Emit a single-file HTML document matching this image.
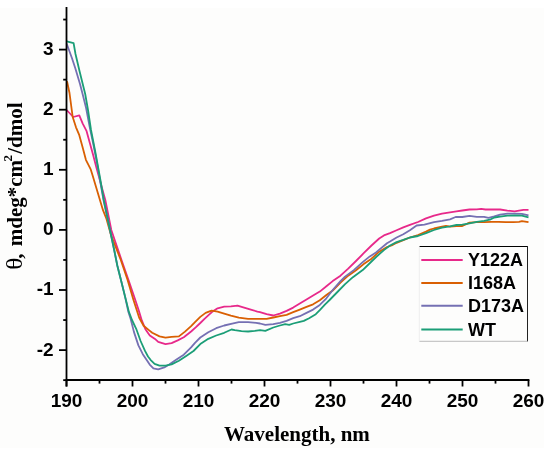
<!DOCTYPE html>
<html><head><meta charset="utf-8"><style>html,body{margin:0;padding:0;background:#fff;width:550px;height:452px;overflow:hidden}svg{display:block}</style></head>
<body><svg width="550" height="452" viewBox="0 0 550 452"><rect x="0" y="8" width="544" height="440" fill="#fdfdfc"/><polyline points="66.6,110.0 73.3,117.0 79.3,115.3 82.6,123.3 86.6,131.2 89.9,143.2 93.2,155.2 96.6,168.4 105.3,200.0 111.3,230.0 121.5,260.0 128.5,280.0 135.3,300.0 138.8,310.6 141.8,320.4 145.4,329.2 149.8,335.4 155.0,338.9 158.2,341.9 165.5,344.1 171.6,343.1 177.7,340.4 183.8,337.2 191.1,331.5 195.7,327.4 200.3,323.0 204.5,318.8 208.0,315.6 211.6,312.3 214.5,310.2 217.6,308.3 224.2,306.7 230.9,306.3 237.5,305.6 244.1,307.6 250.8,309.6 257.4,311.6 260.0,312.2 266.6,314.2 273.3,315.5 279.9,313.6 286.6,310.9 293.2,307.6 299.8,303.6 306.5,299.6 313.1,295.6 319.8,291.6 326.4,286.3 332.7,281.1 340.5,275.7 348.2,268.7 356.0,261.0 363.7,253.2 371.5,245.5 379.2,238.5 383.9,235.4 390.0,233.1 396.6,230.2 403.3,227.3 409.9,224.9 418.0,222.0 426.0,218.4 434.0,215.6 442.0,213.6 450.0,212.3 456.4,211.4 462.3,210.5 469.5,209.5 476.8,209.3 481.2,208.8 485.5,209.5 492.8,209.5 500.1,209.5 507.4,210.6 514.6,211.4 519.0,210.6 523.4,209.8 528.5,209.8" fill="none" stroke="#e7298a" stroke-width="1.8" stroke-linejoin="round" stroke-linecap="butt"/><polyline points="67.0,81.3 69.5,93.0 72.7,117.0 76.0,127.3 79.3,135.2 82.6,147.2 85.9,159.8 90.6,169.1 92.4,174.8 97.7,192.5 103.0,210.2 106.5,219.0 111.0,235.0 120.8,260.0 127.6,280.0 133.5,300.0 136.3,308.8 139.2,317.7 143.6,325.7 148.9,330.1 152.2,332.8 159.5,336.4 165.5,337.6 171.6,336.8 178.9,336.4 185.0,331.6 191.1,326.1 195.0,322.2 200.3,316.9 205.6,312.9 211.6,310.7 217.6,311.6 224.2,313.6 230.9,315.6 238.8,317.6 248.1,318.9 256.1,318.9 266.6,318.9 273.3,317.5 279.9,316.2 286.6,314.9 293.2,312.2 299.8,309.6 306.5,306.9 313.1,304.3 319.8,300.3 326.4,295.0 332.7,290.5 340.5,282.7 348.2,275.7 356.0,270.3 363.7,264.1 371.5,258.7 379.2,251.7 387.0,247.0 391.6,245.5 396.6,242.8 403.3,240.2 409.9,237.5 418.0,235.0 426.0,231.6 430.0,229.6 434.0,228.5 442.0,226.6 446.0,225.9 450.0,226.6 456.4,226.1 462.3,226.0 469.5,222.6 476.8,222.2 484.1,222.2 491.4,221.9 498.6,221.9 505.9,222.2 513.2,222.2 519.0,221.9 521.9,221.2 528.5,222.2" fill="none" stroke="#d95f02" stroke-width="1.8" stroke-linejoin="round" stroke-linecap="butt"/><polyline points="66.6,43.5 72.0,58.2 75.3,68.2 80.0,84.0 82.6,94.0 86.1,108.0 89.9,128.0 93.5,145.0 96.8,162.0 103.5,200.0 110.0,230.0 114.2,250.0 117.3,265.5 121.2,281.0 125.0,296.4 128.4,312.0 130.6,318.8 134.0,332.1 138.4,345.4 142.8,354.2 146.7,360.0 149.7,364.6 153.4,368.4 158.2,369.3 164.3,367.4 169.2,364.4 176.5,359.5 183.8,354.7 191.1,347.4 195.0,342.8 200.3,337.5 208.3,332.2 216.2,328.2 224.2,325.5 232.2,323.6 238.8,322.2 248.1,322.2 256.1,322.9 260.0,323.5 265.3,324.8 273.3,324.2 279.9,322.8 286.6,320.9 293.2,318.2 299.8,316.2 306.5,312.9 313.1,309.6 319.8,304.9 326.4,298.3 332.7,290.0 340.5,281.1 345.0,276.6 353.8,270.1 362.7,262.1 369.8,256.4 376.0,252.4 387.0,243.2 390.0,241.5 396.6,237.5 403.3,234.2 409.9,230.2 416.6,225.5 424.4,224.6 434.0,222.2 442.0,220.9 450.0,219.3 455.6,217.0 462.3,217.0 469.5,215.8 476.8,216.8 484.1,216.8 488.5,217.8 494.3,216.3 500.1,214.6 507.4,213.6 514.6,213.6 521.9,213.8 528.5,215.4" fill="none" stroke="#7570b3" stroke-width="1.8" stroke-linejoin="round" stroke-linecap="butt"/><polyline points="66.7,41.3 73.6,43.2 75.5,54.0 79.5,71.0 85.2,94.0 88.0,110.0 91.0,130.0 95.5,153.0 100.4,180.0 103.8,200.0 110.0,230.0 114.2,250.0 117.3,265.5 121.2,281.0 125.0,296.4 128.9,311.9 132.0,320.0 136.2,328.8 140.6,341.0 145.0,350.9 148.0,356.5 150.5,359.8 154.6,363.8 159.5,365.6 165.5,365.6 171.6,364.4 178.9,360.8 186.2,355.9 193.5,351.0 200.3,344.1 208.3,338.8 216.2,335.5 224.2,332.8 231.5,329.5 234.8,330.2 241.5,331.1 248.1,331.5 254.8,330.9 260.1,330.2 265.3,330.8 273.3,327.5 279.9,325.5 285.2,324.2 289.2,324.8 293.2,323.5 299.8,321.9 303.8,320.9 309.1,318.2 315.8,314.2 319.8,310.2 325.1,304.3 329.6,300.0 337.4,292.0 345.1,284.2 352.9,277.2 362.7,270.1 371.5,261.5 376.1,257.0 383.9,250.1 390.0,245.5 396.6,242.1 403.3,239.9 409.9,237.5 418.0,236.0 426.0,233.2 434.0,230.0 442.0,227.7 450.0,226.4 456.4,225.0 462.3,224.6 469.5,223.4 476.8,221.9 484.1,220.9 489.9,219.7 494.3,217.5 500.1,216.6 507.4,215.6 514.6,215.5 521.9,215.7 528.5,217.3" fill="none" stroke="#1b9e77" stroke-width="1.8" stroke-linejoin="round" stroke-linecap="butt"/><line x1="419.3" y1="246.5" x2="527.5" y2="246.5" stroke="#000" stroke-width="1"/><line x1="527.5" y1="246" x2="527.5" y2="341.5" stroke="#222" stroke-width="1"/><line x1="419.3" y1="341.3" x2="527.5" y2="341.3" stroke="#bbb" stroke-width="1"/><line x1="419.3" y1="246.5" x2="419.3" y2="341.3" stroke="#eee" stroke-width="1"/><line x1="421.3" y1="259.9" x2="462.7" y2="259.9" stroke="#e7298a" stroke-width="2"/><text x="468" y="266.2" font-family="Liberation Sans, Arial, sans-serif" font-weight="bold" font-size="18" fill="#000">Y122A</text><line x1="421.3" y1="282.9" x2="462.7" y2="282.9" stroke="#d95f02" stroke-width="2"/><text x="468" y="289.2" font-family="Liberation Sans, Arial, sans-serif" font-weight="bold" font-size="18" fill="#000">I168A</text><line x1="421.3" y1="305.8" x2="462.7" y2="305.8" stroke="#7570b3" stroke-width="2"/><text x="468" y="312.1" font-family="Liberation Sans, Arial, sans-serif" font-weight="bold" font-size="18" fill="#000">D173A</text><line x1="421.3" y1="329.6" x2="462.7" y2="329.6" stroke="#1b9e77" stroke-width="2"/><text x="468" y="335.9" font-family="Liberation Sans, Arial, sans-serif" font-weight="bold" font-size="18" fill="#000">WT</text><g stroke="#000" stroke-width="1.8"><line x1="66.5" y1="7" x2="66.5" y2="386.5" /><line x1="65.6" y1="380" x2="529.4" y2="380" /><line x1="59" y1="49.60" x2="66.5" y2="49.60" /><line x1="59" y1="109.70" x2="66.5" y2="109.70" /><line x1="59" y1="169.80" x2="66.5" y2="169.80" /><line x1="59" y1="229.90" x2="66.5" y2="229.90" /><line x1="59" y1="290.00" x2="66.5" y2="290.00" /><line x1="59" y1="350.10" x2="66.5" y2="350.10" /><line x1="63.2" y1="19.55" x2="66.5" y2="19.55" /><line x1="63.2" y1="79.65" x2="66.5" y2="79.65" /><line x1="63.2" y1="139.75" x2="66.5" y2="139.75" /><line x1="63.2" y1="199.85" x2="66.5" y2="199.85" /><line x1="63.2" y1="259.95" x2="66.5" y2="259.95" /><line x1="63.2" y1="320.05" x2="66.5" y2="320.05" /><line x1="63.2" y1="380.15" x2="66.5" y2="380.15" /><line x1="66.50" y1="380.15" x2="66.50" y2="386.5" /><line x1="132.50" y1="380.15" x2="132.50" y2="386.5" /><line x1="198.50" y1="380.15" x2="198.50" y2="386.5" /><line x1="264.50" y1="380.15" x2="264.50" y2="386.5" /><line x1="330.50" y1="380.15" x2="330.50" y2="386.5" /><line x1="396.50" y1="380.15" x2="396.50" y2="386.5" /><line x1="462.50" y1="380.15" x2="462.50" y2="386.5" /><line x1="528.50" y1="380.15" x2="528.50" y2="386.5" /><line x1="99.50" y1="380.15" x2="99.50" y2="383.6" /><line x1="165.50" y1="380.15" x2="165.50" y2="383.6" /><line x1="231.50" y1="380.15" x2="231.50" y2="383.6" /><line x1="297.50" y1="380.15" x2="297.50" y2="383.6" /><line x1="363.50" y1="380.15" x2="363.50" y2="383.6" /><line x1="429.50" y1="380.15" x2="429.50" y2="383.6" /><line x1="495.50" y1="380.15" x2="495.50" y2="383.6" /></g><g font-family="Liberation Sans, Arial, sans-serif" font-weight="bold" font-size="19" fill="#000"><text x="53.6" y="55.00" text-anchor="end">3</text><text x="53.6" y="115.10" text-anchor="end">2</text><text x="53.6" y="175.20" text-anchor="end">1</text><text x="53.6" y="235.30" text-anchor="end">0</text><text x="53.6" y="295.40" text-anchor="end">-1</text><text x="53.6" y="355.50" text-anchor="end">-2</text><text x="66.50" y="406.8" text-anchor="middle">190</text><text x="132.50" y="406.8" text-anchor="middle">200</text><text x="198.50" y="406.8" text-anchor="middle">210</text><text x="264.50" y="406.8" text-anchor="middle">220</text><text x="330.50" y="406.8" text-anchor="middle">230</text><text x="396.50" y="406.8" text-anchor="middle">240</text><text x="462.50" y="406.8" text-anchor="middle">250</text><text x="528.50" y="406.8" text-anchor="middle">260</text></g><text x="296.9" y="441.4" text-anchor="middle" font-family="Liberation Serif, Times New Roman, serif" font-weight="bold" font-size="21" fill="#000">Wavelength, nm</text><text transform="translate(21.6,263.8) rotate(-90) scale(1.2,1.06)" text-anchor="middle" font-family="Liberation Serif, Times New Roman, serif" font-weight="normal" font-size="21" fill="#000">θ</text><text transform="translate(21.5,0) rotate(-90)" font-family="Liberation Serif, Times New Roman, serif" font-weight="bold" font-size="21" fill="#000"><tspan x="-258.7">,</tspan><tspan x="-246.3">mdeg*cm</tspan><tspan dx="-1.5" dy="-9.9" font-size="13">2</tspan><tspan dx="1.2" dy="9.9">/dmol</tspan></text></svg></body></html>
